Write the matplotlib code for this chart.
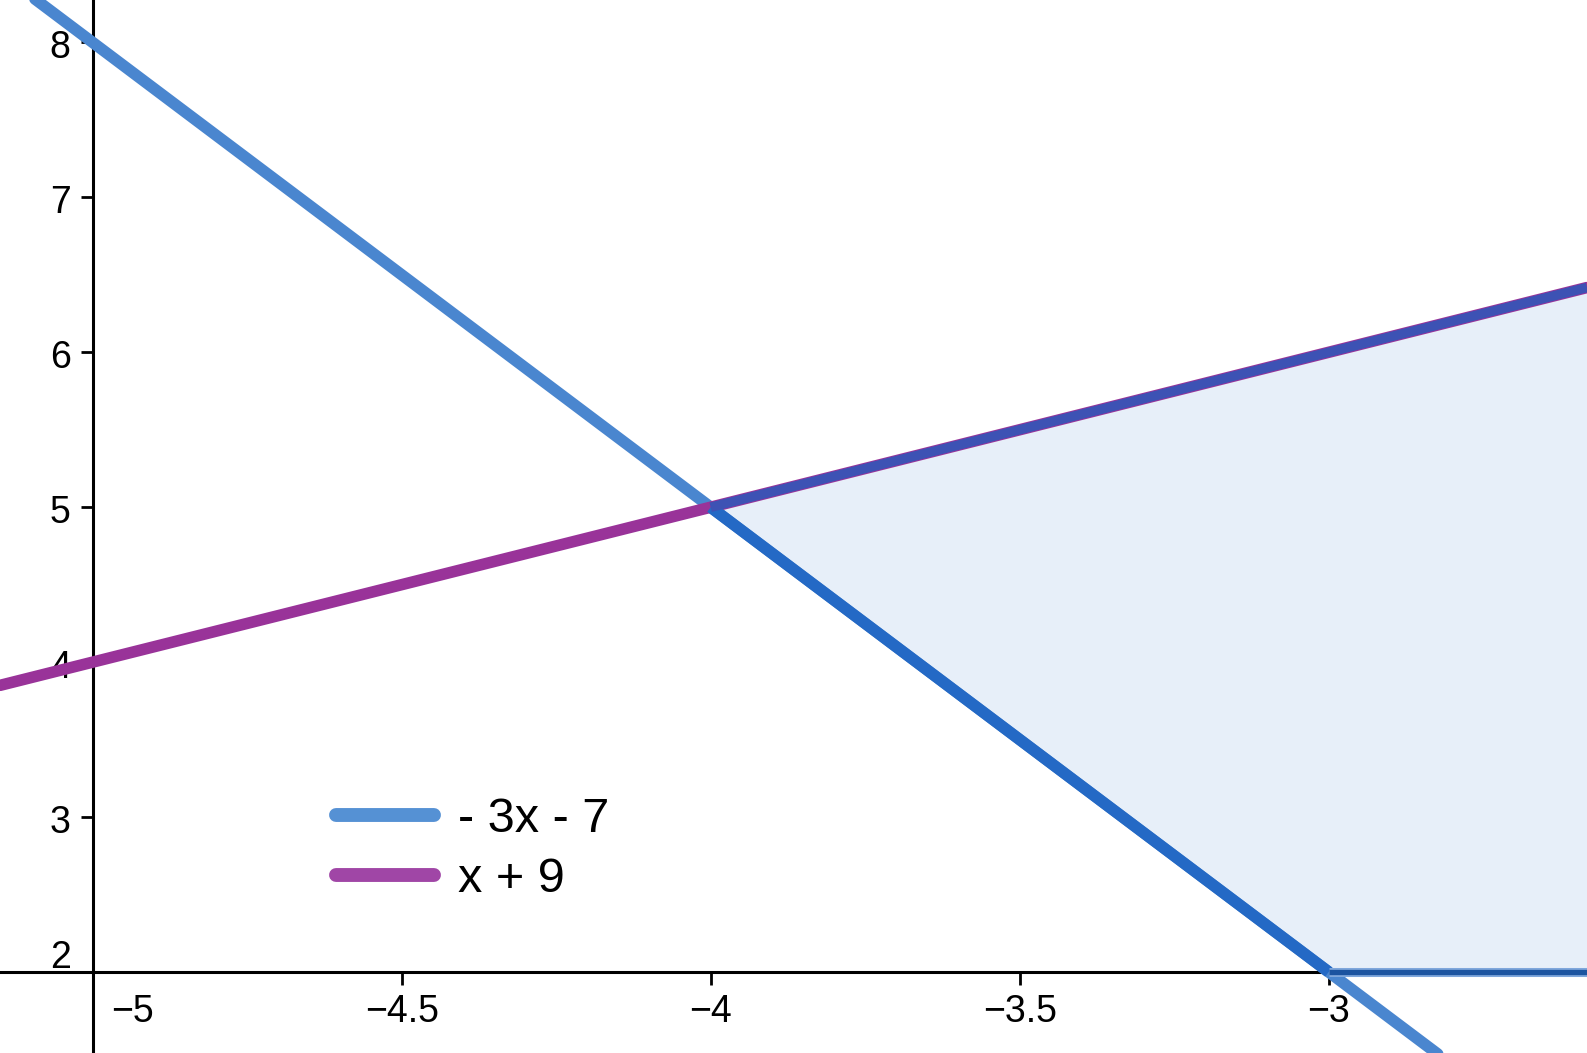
import numpy as np
import matplotlib
matplotlib.use("Agg")
import matplotlib.pyplot as plt

plt.rcParams["font.family"] = ["Liberation Sans", "DejaVu Sans"]

# view window
x_min, x_max = -5.15, -2.582
y_min, y_max = 1.477, 8.274

x_ticks = [-5, -4.5, -4, -3.5, -3]
x_tick_labels = ["\u22125", "\u22124.5", "\u22124", "\u22123.5", "\u22123"]
y_ticks = [2, 3, 4, 5, 6, 7, 8]
y_tick_labels = ["2", "3", "4", "5", "6", "7", "8"]

# lines y = a*x + b
line1_a, line1_b = -3, -7
line2_a, line2_b = 1, 9
labels = ["- 3x - 7", "x + 9"]
floor_y = 2

blue = "#4a86cf"
purple = "#993399"

fig = plt.figure(figsize=(15.87, 10.53), dpi=100)
ax = fig.add_axes([0, 0, 1, 1])
ax.set_xlim(x_min, x_max)
ax.set_ylim(y_min, y_max)

xs = np.linspace(x_min, x_max, 200)
y1 = line1_a * xs + line1_b
y2 = line2_a * xs + line2_b

# shaded region between the lines, above y = 2
x_cross = (line2_b - line1_b) / (line1_a - line2_a)
xr = np.linspace(x_cross, x_max, 300)
lower = np.maximum(line1_a * xr + line1_b, floor_y)
upper = line2_a * xr + line2_b
ax.fill_between(xr, lower, upper, color="#e7eff9", lw=0, zorder=1)

lw = 8.3
l1, = ax.plot(xs, y1, color=blue, lw=lw, zorder=4, label=labels[0],
              solid_capstyle="round")
l2, = ax.plot(xs, y2, color=purple, lw=lw, zorder=5, label=labels[1],
              solid_capstyle="round")

# region boundary
x_floor = (floor_y - line1_b) / line1_a
xb = np.array([x_cross, x_floor])
ax.plot(xb, line1_a * xb + line1_b, color="#2469c5", lw=lw, zorder=6,
        solid_capstyle="butt")
xt = np.array([x_cross, x_max])
ax.plot(xt, line2_a * xt + line2_b, color="#3d52b4", lw=lw - 1.4, zorder=6,
        solid_capstyle="butt")
xf = np.array([x_floor, x_max])
ax.plot(xf, [floor_y, floor_y], color="#7fa7dc", lw=6.5, zorder=6,
        solid_capstyle="butt")
ax.plot(xf, [floor_y, floor_y], color="#1c54a0", lw=3.8, zorder=7,
        solid_capstyle="butt")

# axes crossing at (-5, 2)
for s in ["top", "right"]:
    ax.spines[s].set_visible(False)
ax.spines["left"].set_position(("data", -5))
ax.spines["bottom"].set_position(("data", 2))
ax.spines["left"].set_linewidth(2.2)
ax.spines["bottom"].set_linewidth(2.2)
ax.spines["left"].set_zorder(3)
ax.spines["bottom"].set_zorder(3)
ax.set_xticks(x_ticks)
ax.set_yticks(y_ticks)
ax.set_xticklabels([])
ax.set_yticklabels([])
ax.tick_params(axis="x", direction="out", length=9, width=2)
ax.tick_params(axis="y", direction="out", length=9, width=2)

for xv, lab in zip(x_ticks, x_tick_labels):
    if xv == -5:
        ax.annotate(lab, xy=(xv, floor_y), xytext=(18, -22),
                    textcoords="offset pixels", ha="left", va="top",
                    fontsize=27)
    else:
        ax.annotate(lab, xy=(xv, floor_y), xytext=(0, -22),
                    textcoords="offset pixels", ha="center", va="top",
                    fontsize=27)

for yv, lab in zip(y_ticks, y_tick_labels):
    dy = 14 if yv == 2 else -6
    ax.annotate(lab, xy=(-5, yv), xytext=(-22, dy),
                textcoords="offset pixels", ha="right", va="center",
                fontsize=27)

leg = ax.legend(handles=[l1, l2], loc="center left",
                bbox_to_anchor=(0.212, 0.193), frameon=False, fontsize=35,
                handlelength=2.0, handletextpad=0.5, labelspacing=0.3,
                borderpad=0, borderaxespad=0)
for h in leg.get_lines():
    h.set_linewidth(10)
    h.set_solid_capstyle("round")
leg.get_lines()[0].set_color("#5591d4")
leg.get_lines()[1].set_color("#a046a6")

fig.savefig("out.png", dpi=100)
